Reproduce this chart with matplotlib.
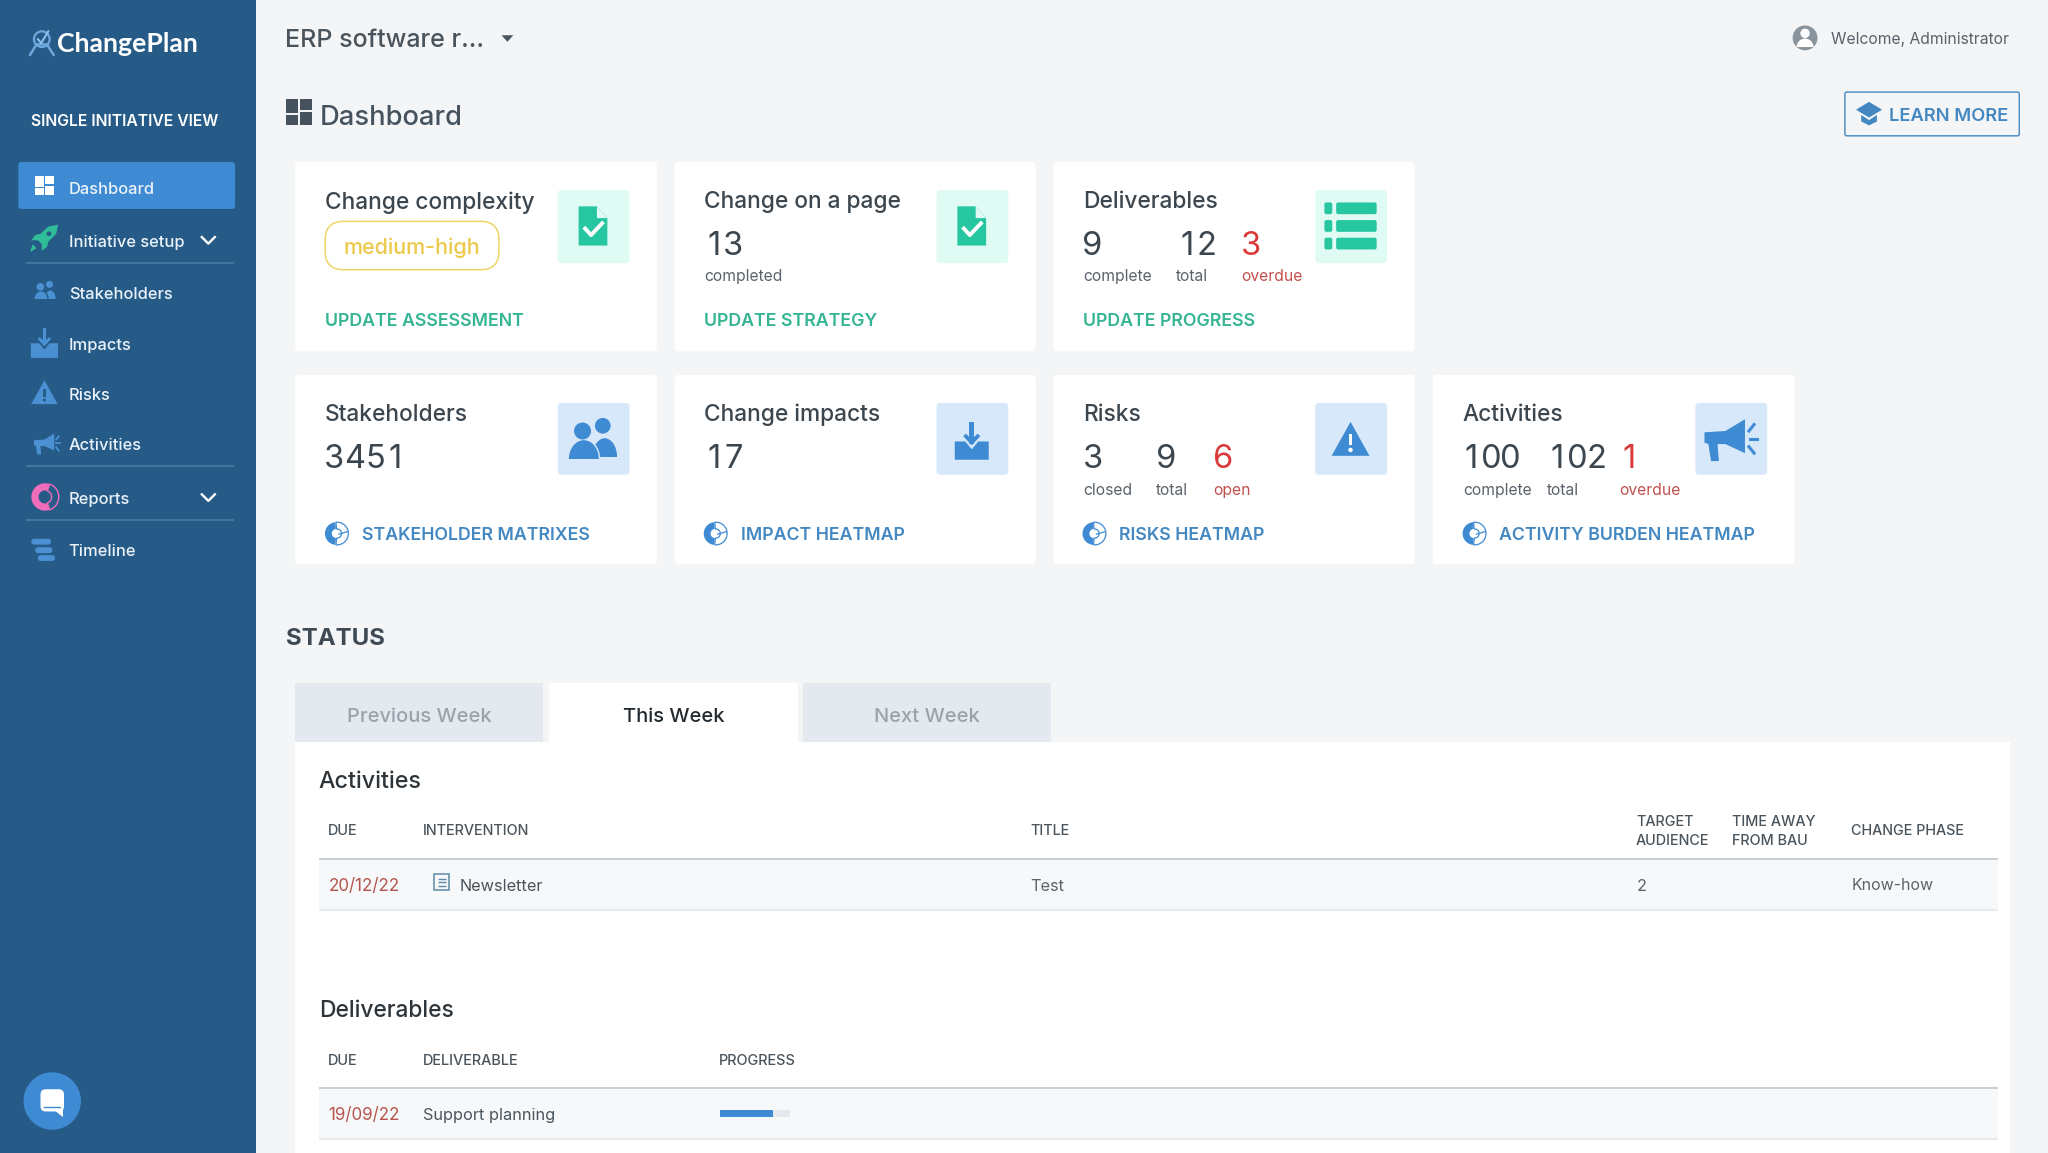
import matplotlib
matplotlib.use("Agg")
import matplotlib.pyplot as plt
from matplotlib.patches import FancyBboxPatch, Rectangle, Circle, Polygon, Wedge, Ellipse

# ---- content ----
nav_labels = ["Dashboard", "Initiative setup", "Stakeholders", "Impacts", "Risks", "Activities", "Reports", "Timeline"]
row1_titles = ["Change complexity", "Change on a page", "Deliverables"]
row1_links = ["UPDATE ASSESSMENT", "UPDATE STRATEGY", "UPDATE PROGRESS"]
row2_titles = ["Stakeholders", "Change impacts", "Risks", "Activities"]
row2_links = ["STAKEHOLDER MATRIXES", "IMPACT HEATMAP", "RISKS HEATMAP", "ACTIVITY BURDEN HEATMAP"]
complexity = "medium-high"
strategy_value = ["13"]
strategy_label = ["completed"]
deliverable_values = ["9", "12", "3"]
deliverable_labels = ["complete", "total", "overdue"]
stakeholder_value = ["3451"]
impact_value = ["17"]
risk_values = ["3", "9", "6"]
risk_labels = ["closed", "total", "open"]
activity_values = ["100", "102", "1"]
activity_labels = ["complete", "total", "overdue"]
tabs = ["Previous Week", "This Week", "Next Week"]
activity_cols = ["DUE", "INTERVENTION", "TITLE", "TARGET\nAUDIENCE", "TIME AWAY\nFROM BAU", "CHANGE PHASE"]
activity_row = ["20/12/22", "Newsletter", "Test", "2", "Know-how"]
deliverable_cols = ["DUE", "DELIVERABLE", "PROGRESS"]
deliverable_row = ["19/09/22", "Support planning"]
deliverable_progress = 0.76

# ---- colours ----
BG = "#F3F5F7"; SIDE = "#265A87"; BLUE = "#3F8BD3"; GREEN = "#35B593"; TEAL = "#25C6A0"
DARK = "#3C464E"; RED = "#DC3A3A"; MINT = "#E0FBF3"; SKY = "#D6E8F9"; LINK = "#4488C2"
FONT = "Inter"
W, H = 1568, 882.8

fig = plt.figure(figsize=(20.48, 11.53), dpi=100, facecolor=BG)
ax = fig.add_axes([0, 0, 1, 1])
ax.set_xlim(0, W); ax.set_ylim(H, 0); ax.axis("off")
K = 2048 / 1568 * 0.72

def T(x, y, s, px, c=DARK, w="normal", ha="left", family=FONT, **kw):
    return ax.text(x, y + 0.11 * px, s, fontsize=px * K, color=c, fontweight=w, ha=ha, va="center",
                   family=family, **kw)

def N(x, y, s, c=DARK, adv=15.0, px=25):
    # wide-tracked figures: one glyph per slot
    for k, ch in enumerate(s):
        T(x + adv * (k + 0.5), y, ch, px, c, ha="center")

def R(x0, y0, x1, y1, c, r=0, ec="none", lw=0, z=1):
    if r:
        p = FancyBboxPatch((x0 + r, y0 + r), x1 - x0 - 2 * r, y1 - y0 - 2 * r,
                           boxstyle=f"round,pad={r},rounding_size={r}", fc=c, ec=ec, lw=lw, zorder=z)
    else:
        p = Rectangle((x0, y0), x1 - x0, y1 - y0, fc=c, ec=ec, lw=lw, zorder=z)
    ax.add_patch(p)

def L(x0, x1, y, c, lw=1.2, z=2):
    ax.plot([x0, x1], [y, y], color=c, lw=lw, zorder=z, solid_capstyle="butt")

def P(pts, c, z=4):
    ax.add_patch(Polygon(pts, closed=True, fc=c, ec="none", zorder=z))

def C(x, y, r, c, z=4):
    ax.add_patch(Circle((x, y), r, fc=c, ec="none", zorder=z))

# ---- icons ----
def grid_icon(x, y, c, s=1.0):
    R(x, y, x + 9 * s, y + 10.5 * s, c, z=4)
    R(x + 10.3 * s, y, x + 19 * s, y + 8 * s, c, z=4)
    R(x, y + 12 * s, x + 9 * s, y + 19 * s, c, z=4)
    R(x + 10.3 * s, y + 9.5 * s, x + 19 * s, y + 19 * s, c, z=4)

def half_body(x, y, w, h, c, bg, z):
    e = Ellipse((x, y), w, h, fc=c, ec=bg, lw=1, zorder=z)
    ax.add_patch(e)
    e.set_clip_path(Rectangle((x - w, y - h), 2 * w, h, transform=ax.transData))

def people(cx, cy, c, s=1.0, bg=SKY):
    C(cx + 8 * s, cy - 10.5 * s, 6 * s, c, z=4)
    half_body(cx + 9.5 * s, cy + 13.5 * s, 20 * s, 30 * s, c, bg, 4)
    half_body(cx - 6.5 * s, cy + 15 * s, 24 * s, 30 * s, c, bg, 6)
    C(cx - 7.5 * s, cy - 6.5 * s, 6.5 * s, c, z=8)

def download(cx, cy, c, s=1.0):
    P([(cx - 13 * s, cy + 1 * s), (cx - 5 * s, cy + 1 * s), (cx, cy + 7 * s), (cx + 5 * s, cy + 1 * s),
       (cx + 13 * s, cy + 1 * s), (cx + 13 * s, cy + 15 * s), (cx - 13 * s, cy + 15 * s)], c)
    R(cx - 1.8 * s, cy - 14 * s, cx + 1.8 * s, cy + 3 * s, c, z=5)
    P([(cx - 6.5 * s, cy - 3 * s), (cx, cy + 4 * s), (cx + 6.5 * s, cy - 3 * s), (cx + 4.5 * s, cy - 5 * s),
       (cx, cy - 0.5 * s), (cx - 4.5 * s, cy - 5 * s)], c, z=5)

def warning(cx, cy, c, s=1.0, bg="white"):
    P([(cx, cy - 14 * s), (cx + 14.5 * s, cy + 12 * s), (cx - 14.5 * s, cy + 12 * s)], c)
    R(cx - 1.5 * s, cy - 5 * s, cx + 1.5 * s, cy + 4 * s, bg, z=5)
    C(cx, cy + 7.5 * s, 1.7 * s, bg, z=5)

def megaphone(cx, cy, c, s=1.0):
    pts = [(-18, -6), (-2, -7), (13, -16), (13, 10), (-2, 3), (-8, 3), (-7, 16), (-13, 16), (-15, 3), (-18, 2)]
    P([(cx + a * s, cy + b * s) for a, b in pts], c)
    for a, b in [((16, -7), (20, -12)), ((16.5, -1), (22, -1)), ((16, 5), (20, 10))]:
        ax.plot([cx + a[0] * s, cx + b[0] * s], [cy + a[1] * s, cy + b[1] * s], color=c, lw=2.2 * max(s, .6), zorder=4)

def doc_check(cx, cy):
    P([(cx - 11, cy - 15), (cx + 3, cy - 15), (cx + 11, cy - 6), (cx + 11, cy + 15), (cx - 11, cy + 15)], TEAL)
    P([(cx + 3, cy - 15), (cx + 11, cy - 6), (cx + 3, cy - 6)], MINT, z=5)
    ax.plot([cx - 6, cx - 1.5, cx + 7], [cy + 2, cy + 7, cy - 2], color="white", lw=2.8, zorder=6)

def list_icon(cx, cy):
    for dy in (-13.5, 0, 13.5):
        R(cx - 20, cy + dy - 4.5, cx - 14, cy + dy + 4.5, TEAL, r=1.5, z=4)
        R(cx - 11, cy + dy - 4.5, cx + 20, cy + dy + 4.5, TEAL, r=1.5, z=4)

def pie(cx, cy, c, r=8.7):
    ax.add_patch(Wedge((cx, cy), r, 95, 265, width=r * 0.6, fc=c, ec="none", zorder=4))
    ax.add_patch(Wedge((cx + 0.5, cy), r, 265, 95, width=r * 0.6, fc="white", ec=c, lw=0.9, zorder=4))
    ax.plot([cx + 2, cx + r], [cy + 0.5, cy - 1.5], color=c, lw=0.9, zorder=5)

# ---- sidebar ----
R(0, 0, 196, H, SIDE)
ax.add_patch(Circle((32, 30), 6, fc="none", ec="#6FA8DC", lw=1.6, zorder=4))
ax.plot([23, 28, 36, 41], [42, 34, 34, 42], color="#6FA8DC", lw=1.8, zorder=4)
ax.plot([29, 31.5, 37], [30, 33, 24], color="#8FC0EA", lw=1.5, zorder=4)
T(44, 31.5, "ChangePlan", 20.4, "white", "bold", family="Lato")
T(24, 91.5, "SINGLE INITIATIVE VIEW", 12, "white", "semibold")

R(14, 124, 180, 160, BLUE, r=2.5, z=2)
grid_icon(27, 135, "white", 0.76)
nav_y = [143.5, 184, 224, 263, 301.5, 340, 381, 421]
for lab, y in zip(nav_labels, nav_y):
    T(52.6, y, lab, 12.6, "#EAF2F9", "medium")
for y in (201, 357, 398):
    L(20, 179, y, "#4C7BA4", 1.2)
for y in (184, 381):
    ax.plot([154.5, 159.5, 164.5], [y - 2.5, y + 2.5, y - 2.5], color="white", lw=1.7, zorder=4)
# rocket
P([(44.5, 172), (37, 173.5), (31, 179), (27, 180), (24, 184), (29, 184), (32, 187), (32, 192),
   (36, 189), (37, 185), (43, 179)], "#2FBE97")
P([(23, 193), (25, 187), (28, 190)], "#2FBE97")
C(37.5, 179, 1.8, SIDE, z=5)
people(34.3, 222.5, "#4A90D2", 0.45, bg=SIDE)
download(34, 262, "#4A90D2", 0.8)
warning(34, 301, "#4A90D2", 0.7, bg=SIDE)
megaphone(35, 340, "#4A90D2", 0.5)
ax.add_patch(Wedge((34.5, 380.5), 10.5, 70, 290, width=5.5, fc="#F06DBB", ec="none", zorder=4))
ax.add_patch(Wedge((34.5, 380.5), 10.5, 290, 70, width=5.5, fc=SIDE, ec="#F06DBB", lw=1, zorder=4))
R(24, 412.5, 39, 417, "#4A90D2", r=2, z=4)
R(27, 419, 40, 423.5, "#4A90D2", r=2, z=4)
R(29, 425, 42, 429.5, "#4A90D2", r=2, z=4)
# chat button
C(40, 843, 22, "#3F8BD3", z=3)
R(31, 834, 49, 851, "white", r=4, z=4)
P([(41, 850), (48, 850), (48, 855)], "white", z=4)
ax.plot([34, 46], [847.5, 847.5], color="#3F8BD3", lw=1, zorder=5)

# ---- header ----
T(218, 29, "ERP software r...", 19.2, "#4A545C", "medium")
P([(384, 27), (393, 27), (388.5, 32)], "#4A545C")
C(1382, 29, 9.5, "#8A949C")
C(1382, 25.5, 3.6, "white", z=5)
ax.add_patch(Wedge((1382, 36), 6.5, 180, 360, fc="white", ec="none", zorder=5))
T(1402, 29, "Welcome, Administrator", 12, "#59626A")
grid_icon(219, 76, "#46535E", 1.03)
T(245, 88, "Dashboard", 20.9, "#46535E", "medium")
R(1412.5, 70.5, 1546, 104, BG, r=1.5, ec=LINK, lw=1.0, z=2)
P([(1431, 78), (1441, 84), (1431, 90), (1421, 84)], LINK)
P([(1425, 88), (1431, 92), (1437, 88), (1437, 93), (1431, 96), (1425, 93)], LINK)
T(1446, 87.5, "LEARN MORE", 14, LINK, "semibold")

# ---- cards ----
xs = [226, 516, 806, 1097]
def card(i, y0, tile):
    x = xs[i]
    R(x + (0.7 if 0 < i < 3 else 0), y0, x + 277, y0 + 145, "white", r=3, z=2)
    R(x + 201, y0 + 21.5, x + 256, y0 + (77.5 if tile == MINT else 76.5), tile, r=3, z=3)

for i, (t, l) in enumerate(zip(row1_titles, row1_links)):
    card(i, 124, MINT)
    T(xs[i] + 23, 153, t, 17.4, DARK, "medium")
    T(xs[i] + 23, 245, l, 13.6, GREEN, "semibold")
doc_check(454, 173); doc_check(744, 173); list_icon(1034, 173)

R(249, 169.5, 382, 206.5, "white", r=14, ec="#F0D465", lw=1.1, z=3)
T(315.5, 187.5, complexity, 16.5, "#ECC94B", "medium", ha="center")

def stats(vals, labs, vx, lx, vy, ly):
    for k, (v, l) in enumerate(zip(vals, labs)):
        last = k == 2
        N(vx[k], vy, v, RED if last else DARK)
        T(lx[k], ly, l, 12, "#C0504D" if last else "#5A636B")

N(539, 186, strategy_value[0])
T(539, 210.5, strategy_label[0], 12, "#5A636B")
stats(deliverable_values, deliverable_labels, [829, 901, 950], [829, 900, 950], 186, 210.5)

for i, (t, l) in enumerate(zip(row2_titles, row2_links)):
    card(i, 287, SKY)
    T(xs[i] + 23, 316, t, 17.4, DARK, "medium")
    T(xs[i] + 51, 408.5, l, 13.6, LINK, "semibold")
    pie(xs[i] + 31.5, 408.5, BLUE)
N(248, 349, stakeholder_value[0], adv=15.6)
N(539, 349, impact_value[0])
stats(risk_values, risk_labels, [829, 885, 929], [829, 885, 929], 349, 374)
stats(activity_values, activity_labels, [1119, 1185, 1240], [1120, 1184, 1240], 349, 374)
people(453.5, 336.5, BLUE, 1.0, bg=SKY)
download(744, 337, BLUE)
warning(1034, 337, BLUE, 1.0)
megaphone(1323, 337, BLUE, 1.0)

# ---- status ----
T(219, 487, "STATUS", 18.4, "#3F4A54", "bold")
R(226, 568, 1539, H + 5, "white", z=1)
tab_x = [(226, 416), (420, 611), (615, 805)]
for k, (lab, (a, b)) in enumerate(zip(tabs, tab_x)):
    on = k == 1
    R(a, 523, b, 569 if on else 568, "white" if on else "#E4E8EF", z=2)
    T((a + b) / 2, 547.5, lab, 15.4, "#222A31" if on else "#9AA3AB", "medium", ha="center")

T(244, 596.5, "Activities", 17.8, "#2D353B", "medium")
col_x = [251, 324, 789, 1252.5, 1326, 1417.5]
for s, x in zip(activity_cols, col_x):
    ax.text(x, 636.5, s, fontsize=11 * K, color="#4A545C", family=FONT, fontweight="medium",
            va="center", ha="left", linespacing=1.42)
R(244, 658, 1530, 697, "#F7F8FA", z=1.5)
L(244, 1530, 657.5, "#C9CED3", 1.4)
L(244, 1530, 697, "#E9ECEF", 1.6)
T(251.5, 677, activity_row[0], 13, "#B5564E")
R(332.5, 669.5, 344, 681.5, "#F7F8FA", ec="#5B8AA5", lw=1.1, z=3)
L(335, 341.5, 673, "#5B8AA5", 1, z=4); L(335, 341.5, 675.5, "#5B8AA5", 1, z=4); L(335, 341.5, 678.5, "#5B8AA5", 1, z=4)
T(352, 677, activity_row[1], 12.5, "#4A545C")
T(789, 677, activity_row[2], 12.5, "#5A636B")
T(1253, 677, activity_row[3], 12.5, "#5A636B")
T(1417.5, 677, activity_row[4], 12.2, "#5A636B")

T(244.5, 772, "Deliverables", 17.4, "#2D353B", "medium")
for s, x in zip(deliverable_cols, [251, 324, 550.5]):
    T(x, 811.5, s, 11.1, "#4A545C", "medium")
R(244, 833, 1530, 872, "#F7F8FA", z=1.5)
L(244, 1530, 832.8, "#C9CED3", 1.4)
L(244, 1530, 872, "#E9ECEF", 1.6)
T(251.5, 852.5, deliverable_row[0], 13, "#B5564E")
T(324, 852.5, deliverable_row[1], 12.5, "#4A545C")
bar = fig.add_axes([551 / W, 1 - 855.3 / H, 54 / W, 5.6 / H])
bar.set_xlim(0, 1); bar.set_ylim(0, 1); bar.axis("off")
bar.barh([0.5], [1], height=1, color="#E4E8EF")
bar.barh([0.5], [deliverable_progress], height=1, color=BLUE)

fig.savefig("out.png", dpi=100, facecolor=BG)
